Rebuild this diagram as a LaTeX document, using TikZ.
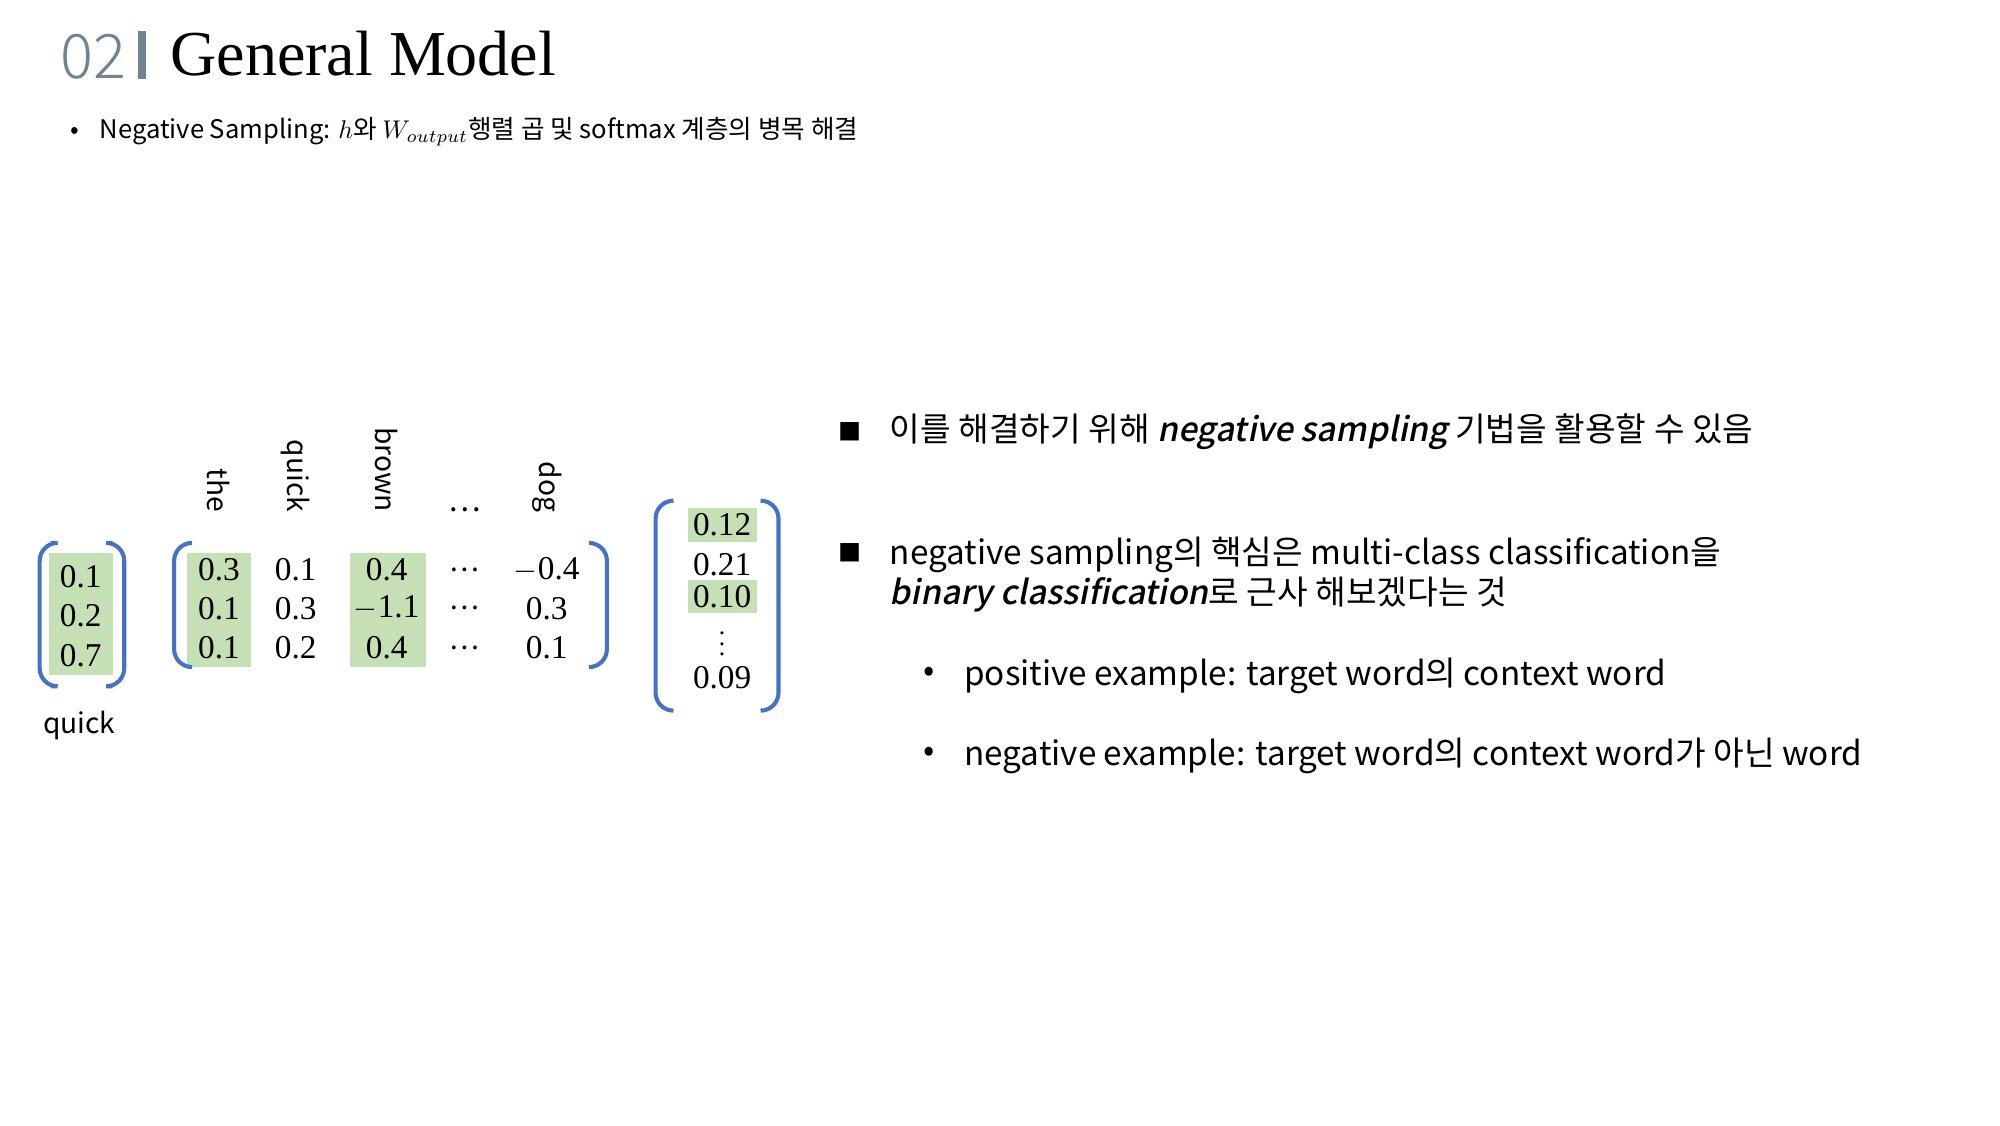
\documentclass[tikz,border=0pt]{standalone}
\usepackage{fontspec}
\setmainfont{Liberation Serif}
\newfontfamily\kr{Noto Sans CJK KR}
\newfontfamily\kri[FakeSlant=0.2]{Noto Sans CJK KR Medium}
\newfontfamily\krl{Noto Sans CJK KR Light}
\usepackage{amsmath}
\begin{document}
\begin{tikzpicture}[x=0.5pt,y=-0.5pt,
  num/.style={font=\fontsize{13}{15}\selectfont,inner sep=1pt},
  lab/.style={font=\kr\fontsize{11}{13}\selectfont},
  body/.style={font=\kr\fontsize{13}{16}\selectfont,anchor=west},
  brk/.style={line width=1.6pt,rounded corners=7pt}]
\definecolor{g1}{HTML}{C5E0B4}\definecolor{bl}{HTML}{4472C4}\definecolor{gr}{HTML}{6D8492}
\useasboundingbox (0,0) rectangle (1562,879);
% title
\node[anchor=west,text=gr,font=\krl\fontsize{24}{30}\selectfont] (n02) at (40,44) {02};
\fill[gr] (108,24) rectangle (114,62);
\node[anchor=west,font=\fontsize{25}{30}\selectfont] (title) at (126,42) {General Model};
\node[anchor=west,font=\kr\fontsize{10}{12}\selectfont] (sub) at (48,103) {•\hspace{8pt}Negative Sampling: $h$와 $W_{output}$행렬 곱 및 softmax 계층의 병목 해결};
% input vector
\fill[g1] (38,432) rectangle (88,527);
\draw[brk,draw=bl] (40,424) -- (31,424) -- (31,536) -- (40,536);
\draw[brk,draw=bl] (88,424) -- (97,424) -- (97,536) -- (88,536);
\node[num] (v1) at (63,450) {0.1};
\node[num] (v2) at (63,481) {0.2};
\node[num] (v3) at (63,512) {0.7};
\node[lab] (vq) at (62,567) {quick};
% matrix
\fill[g1] (146,432) rectangle (196,521);
\fill[g1] (273,432) rectangle (333,521);
\draw[brk,draw=bl] (150,424) -- (136,424) -- (136,521) -- (150,521);
\draw[brk,draw=bl] (460,424) -- (474,424) -- (474,521) -- (460,521);
\foreach \x/\a/\b/\c/\n in {171/0.3/0.1/0.1/a,231/0.1/0.3/0.2/b,302/0.4/$-$1.1/0.4/c,427/$-$0.4/0.3/0.1/e}{
  \node[num] (m\n1) at (\x,445) {\a};
  \node[num] (m\n2) at (\x,475) {\b};
  \node[num] (m\n3) at (\x,506) {\c};}
\foreach \y/\n in {445/1,475/2,506/3}{\node[font=\kr\fontsize{11}{12}\selectfont] (md\n) at (363,\y) {⋯};}
\foreach \x/\t in {171/the,231/quick,302/brown,427/dog}{
  \node[lab,rotate=-90,anchor=east] (w\t) at (\x,407) {\t};}
\node[font=\kr\fontsize{12}{12}\selectfont] (wdots) at (363,398) {⋯};
% output vector
\fill[g1] (537,397) rectangle (591,423);
\fill[g1] (537,453) rectangle (591,479);
\draw[brk,draw=bl] (526,391) -- (512,391) -- (512,555) -- (526,555);
\draw[brk,draw=bl] (594,391) -- (608,391) -- (608,555) -- (594,555);
\node[num] (o1) at (564,410) {0.12};
\node[num] (o2) at (564,441) {0.21};
\node[num] (o3) at (564,466) {0.10};
\node[font=\fontsize{10}{10}\selectfont,inner sep=0pt] (o4) at (564,497) {$\vdots$};
\node[num] (o5) at (564,529) {0.09};
% right text
\node[font=\kr\fontsize{9}{10}\selectfont] (b1) at (664,337) {■};
\node[body] (t1) at (688,337) {이를 해결하기 위해 {\kri negative sampling} 기법을 활용할 수 있음};
\node[font=\kr\fontsize{9}{10}\selectfont] (b2) at (664,432) {■};
\node[body] (t2) at (688,433) {negative sampling의 핵심은 multi-class classification을};
\node[body] (t3) at (688,464) {{\kri binary classification}로 근사 해보겠다는 것};
\node[body] (b3) at (714,527) {•};
\node[body] (t4) at (746,528) {positive example: target word의 context word};
\node[body] (b4) at (714,589) {•};
\node[body] (t5) at (746,590) {negative example: target word의 context word가 아닌 word};
\end{tikzpicture}
\end{document}
